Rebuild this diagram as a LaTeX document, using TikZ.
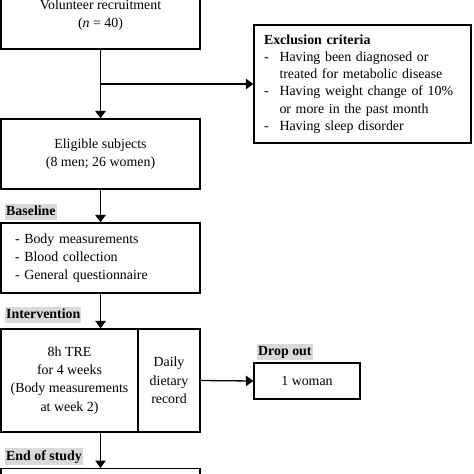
\documentclass[tikz,border=0pt]{standalone}
\usepackage{fontspec}
\setmainfont{Liberation Serif}
\usetikzlibrary{arrows.meta}
\begin{document}
\begin{tikzpicture}[x=1pt,y=-1pt,
  box/.style={draw, line width=1.3pt, inner sep=0pt, align=center, font=\fontsize{13.9}{18.3}\selectfont},
  lbl/.style={fill=gray!30, font=\fontsize{13.9}{16}\selectfont\bfseries, inner xsep=1pt, inner ysep=1.2pt, text height=10.5pt, text depth=3.5pt, anchor=south west},
  arr/.style={line width=1.3pt, -{Triangle[length=7.5pt,width=10.5pt]}}]
\useasboundingbox (0,0) rectangle (474,474);
\node[box, minimum width=199pt, minimum height=67pt] (rec) at (100.5,15.5) {Volunteer recruitment\\(\textit{n} = 40)};
\node[box, minimum width=199pt, minimum height=70pt] (elig) at (100.5,154) {Eligible subjects\\(8 men; 26 women)};
\node[box, minimum width=217pt, minimum height=118pt, text width=197pt, inner xsep=10pt, align=left, font=\fontsize{13.9}{17.3}\selectfont] (excl) at (362.5,84)
  {\textbf{Exclusion criteria}\\
   \makebox[15.5pt][l]{-}Having been diagnosed or\\
   \hspace*{15.5pt}treated for metabolic disease\\
   \makebox[15.5pt][l]{-}Having weight change of 10\%\\
   \hspace*{15.5pt}or more in the past month\\
   \makebox[15.5pt][l]{-}Having sleep disorder};
\node[box, minimum width=199pt, minimum height=70pt, text width=171pt, inner xsep=14pt, align=left] (base) at (100.5,258)
  {- Body measurements\\- Blood collection\\- General questionnaire};
\node[box, minimum width=137pt, minimum height=103pt] (tre) at (69.5,380.5) {8h TRE\\for 4 weeks\\(Body measurements\\at week 2)};
\node[box, minimum width=62pt, minimum height=103pt] (daily) at (169,380.5) {Daily\\dietary\\record};
\node[box, minimum width=106pt, minimum height=36pt] (drop) at (307,381) {1 woman};
\node[box, minimum width=199pt, minimum height=40pt, anchor=north] (final) at (100.5,468) {};
\node[lbl] (lbase) at (5,220.5) {Baseline};
\node[lbl] (linter) at (5,323.5) {Intervention};
\node[lbl] (lend) at (5,465) {End of study};
\node[lbl] (ldrop) at (257,360.5) {Drop out};
\coordinate (br) at (rec.south |- excl.west);
\draw[arr] (rec.south) -- (elig.north);
\draw[arr] (br) -- (excl.west);
\draw[arr] (elig.south) -- (base.north);
\draw[arr] (base.south) -- (base.south |- tre.north);
\draw[arr] (daily.east) -- (drop.west);
\draw[arr] (base.south |- tre.south) -- (final.north);
\end{tikzpicture}
\end{document}
